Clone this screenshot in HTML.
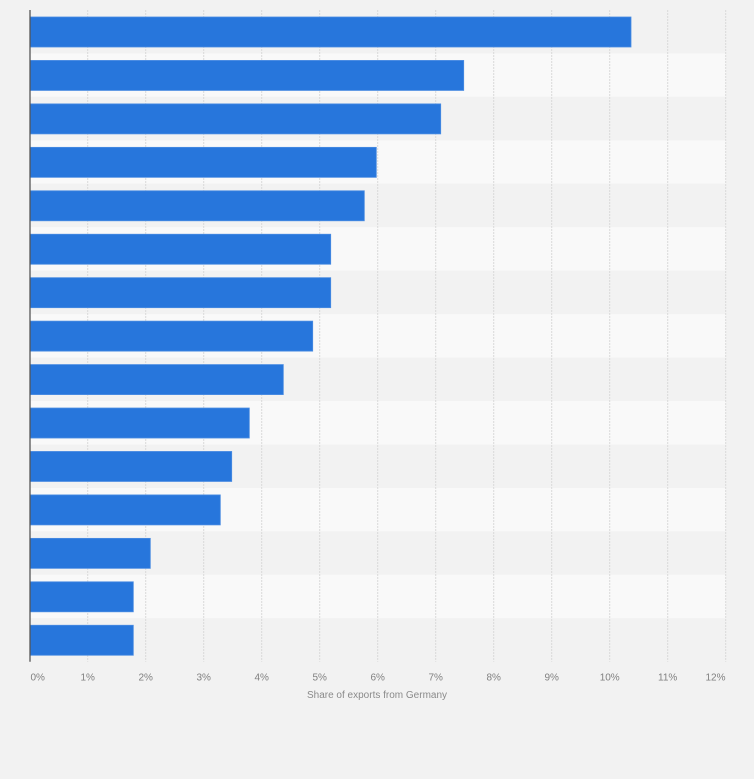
<!DOCTYPE html>
<html><head><meta charset="utf-8"><style>
html,body{margin:0;padding:0;background:#f2f2f2;}
svg{display:block;}
text{font-family:"Liberation Sans",sans-serif;}
</style></head><body>
<svg width="754" height="779" viewBox="0 0 754 779" xmlns="http://www.w3.org/2000/svg">
<rect x="0" y="0" width="754" height="779" fill="#f2f2f2"/>
<g id="rows"></g>
<g id="grid"></g>
<g id="bars"></g>
<line x1="30" y1="10" x2="30" y2="661.7" stroke="#555" stroke-width="1.3"/>
<g id="ticks" font-size="10" fill="#808080"></g>
<text x="377" y="698" font-size="10" fill="#8a8a8a" text-anchor="middle">Share of exports from Germany</text>
</svg>
<script>
var ns="http://www.w3.org/2000/svg";
function el(t,a,p){var e=document.createElementNS(ns,t);for(var k in a)e.setAttribute(k,a[k]);document.getElementById(p).appendChild(e);return e;}
var pitch=(661.7-10)/15;
for(var k=0;k<15;k++){
  el('rect',{x:30,y:10+pitch*k,width:695.7,height:pitch,fill:(k%2==0)?'#f2f2f2':'#f9f9f9'},'rows');
}
var x0=29.7,u=58;
for(var i=1;i<=12;i++){
  var x=x0+u*i;
  el('line',{x1:x,y1:10,x2:x,y2:661.7,stroke:'#dadada','stroke-width':1,'stroke-dasharray':'2,1'},'grid');
}
var ends=[631,463.7,440.7,376.3,364.3,330.7,330.7,312.7,283.3,249.3,231.7,220.3,150.3,133.3,133.3];
for(var k=0;k<15;k++){
  el('rect',{x:30,y:10+pitch*k+7,width:ends[k]-30,height:30,fill:'#2776dc',stroke:'#4a8ce2','stroke-width':0.8},'bars');
}
for(var i=0;i<=12;i++){
  var x=x0+u*i, anchor='middle';
  if(i==0){x=30.5;anchor='start';}
  if(i==12){x=725.5;anchor='end';}
  var t=el('text',{x:x,y:680.5,'text-anchor':anchor},'ticks');
  t.textContent=i+'%';
}
</script>
</body></html>
